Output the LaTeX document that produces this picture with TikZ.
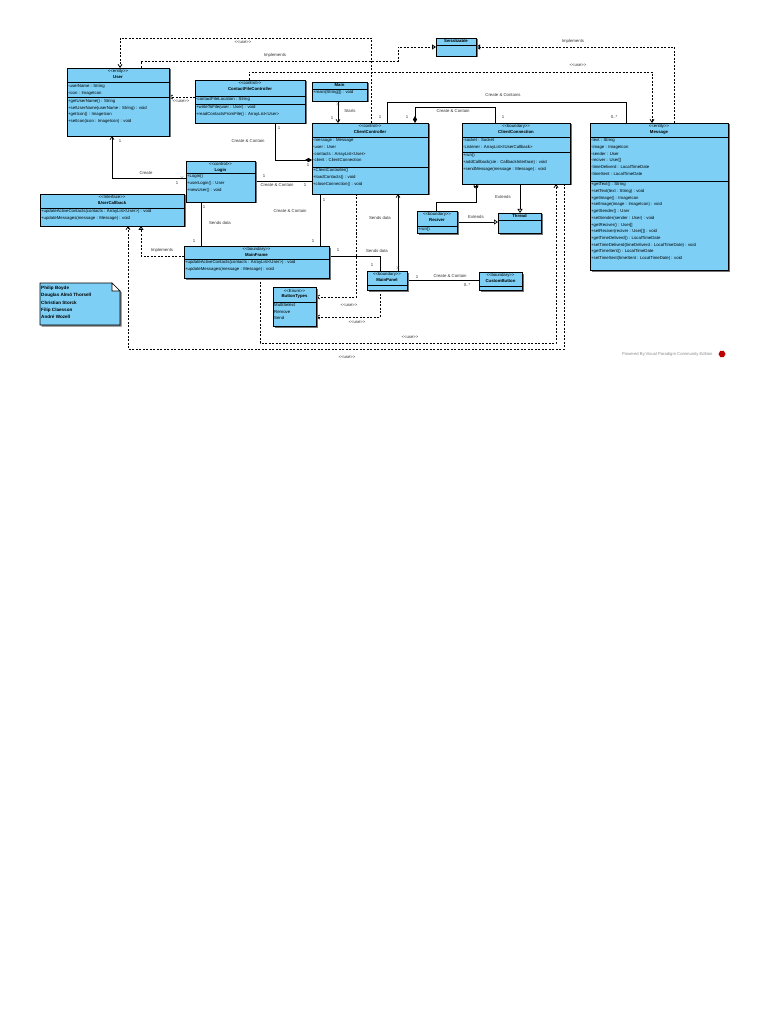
\documentclass[tikz,border=0pt]{standalone}
\usepackage{fontspec}
\setmainfont{Liberation Sans}
\usetikzlibrary{arrows.meta,shapes.geometric}
\definecolor{cfill}{HTML}{7DCFF5}
\newcommand{\tf}{\fontsize{4.3}{6.7}\selectfont}
\newcommand{\sto}[1]{{<}{<}#1{>}{>}}
\newcommand{\ubox}[6]{%
  \fill[black!55] (#2+1.5,#3+1.5) rectangle (#4+1.5,#5+1.5);
  \node[ubx,minimum width={(#4-#2)*1pt},minimum height={(#5-#3)*1pt},anchor=north west] (#1) at (#2,#3) {};
  \foreach \yy in {#6} {\draw[line width=0.7pt] (#2,\yy) -- (#4,\yy);}
}
\tikzset{
  ubx/.style={draw,line width=0.8pt,fill=cfill,inner sep=0pt},
  hd/.style={font=\fontsize{4.3}{5.8}\selectfont,inner sep=0pt,anchor=north,align=center},
  mem/.style={font=\tf,inner sep=0pt,anchor=north west,align=left},
  lbl/.style={font=\tf,inner sep=0.5pt,text=black!80},
  ln/.style={line width=0.7pt},
  dl/.style={line width=0.8pt,dash pattern=on 2pt off 1.5pt},
  dep/.style={dl,-{Straight Barb[length=3pt,width=4pt]}},
  real/.style={dl,-{Triangle[open,length=4pt,width=5pt,fill=cfill]}},
  gen/.style={ln,-{Triangle[open,length=4pt,width=5pt,fill=white]}},
  nav/.style={ln,-{Straight Barb[length=3pt,width=4pt]}},
  comp/.style={ln,{Diamond[length=7pt,width=4pt]}-},
}
\begin{document}
\begin{tikzpicture}[x=1pt,y=-1pt]
\useasboundingbox[fill=white] (0,0) rectangle (768,1024);
% ---------- connectors (behind boxes) ----------
\draw[dep] (371,123) -- (371,38) -- (120,38) -- (120,68);
\node[lbl] (u1) at (243,42) {\sto{use}};
\draw[real] (141,68) -- (141,61) -- (398,61) -- (398,47) -- (436,47);
\node[lbl] (i1) at (275,55) {Implements};
\draw[dep] (249,80) -- (249,72) -- (652,72) -- (652,123);
\node[lbl] (u2) at (578,65) {\sto{use}};
\draw[real] (674,123) -- (674,47) -- (476,47);
\node[lbl] (i2) at (573,41) {Implements};
\draw[dep] (195,97) -- (169,97);
\node[lbl] (u3) at (181,101) {\sto{use}};
\draw[comp] (312,160) -- (275,160) -- (275,123);
\node[lbl] (c1) at (248,141) {Create \& Contain};
\node[lbl] at (279,128) {1}; \node[lbl] at (308,165) {1};
\draw[nav] (338,101) -- (338,123);
\node[lbl] at (338,104) {$\times$};
\node[lbl] (s1) at (350,111) {Starts};
\node[lbl] at (332,118) {1};
\draw[nav] (186,178) -- (112,178) -- (112,136);
\node[lbl] at (182,178) {$\times$};
\node[lbl] (c2) at (146,173) {Create};
\node[lbl] at (120,141) {1}; \node[lbl] at (177,183) {1};
\draw[ln] (255,181) -- (312,181);
\node[lbl] (c3) at (277,185) {Create \& Contain};
\node[lbl] at (264,176) {1}; \node[lbl] at (305,185) {1};
\draw[ln] (201,202) -- (201,246);
\node[lbl] (sd1) at (220,223) {Sends data};
\node[lbl] at (204,207) {1}; \node[lbl] at (194,241) {1};
\draw[ln] (320,194) -- (320,246);
\node[lbl] (c4) at (290,211) {Create \& Contain};
\node[lbl] at (324,200) {1}; \node[lbl] at (313,241) {1};
\draw[ln] (387,123) -- (387,102) -- (626,102) -- (626,123);
\node[lbl] (c5) at (503,95) {Create \& Contains};
\node[lbl] at (380,117) {1}; \node[lbl] at (614,117) {0..*};
\draw[comp] (415,123) -- (415,107) -- (495,107) -- (495,123);
\node[lbl] (c6) at (453,111) {Create \& Contain};
\node[lbl] at (407,117) {1}; \node[lbl] at (503,117) {1};
\draw[ln] (436,211) -- (436,202) -- (476,202) -- (476,188);
\draw[ln,fill=white] (476,186) circle (2pt);
\draw[ln] (474,186) -- (478,186) (476,184) -- (476,188);
\draw[gen] (520,184) -- (520,213);
\node[lbl] (e1) at (503,197) {Extends};
\draw[gen] (457,222) -- (498,222);
\node[lbl] (e2) at (476,217) {Extends};
\draw[nav] (398,271) -- (398,194);
\node[lbl] at (398,268) {$\times$};
\node[lbl] (sd2) at (380,218) {Sends data};
\draw[ln] (329,256) -- (380,256) -- (380,271);
\node[lbl] (sd3) at (377,251) {Sends data};
\node[lbl] at (338,250) {1}; \node[lbl] at (372,265) {1};
\draw[dep] (356,194) -- (356,297) -- (316,297);
\node[lbl] (u4) at (349,305) {\sto{use}};
\draw[dep] (380,290) -- (380,317) -- (316,317);
\node[lbl] (u5) at (357,322) {\sto{use}};
\draw[ln] (407,280) -- (479,280);
\node[lbl] (c7) at (450,276) {Create \& Contain};
\node[lbl] at (417,277) {1}; \node[lbl] at (467,285) {0..*};
\draw[dep] (260,278) -- (260,343) -- (556,343) -- (556,184);
\node[lbl] (u6) at (410,337) {\sto{use}};
\draw[dep] (564,184) -- (564,349) -- (128,349) -- (128,226);
\node[lbl] (u7) at (347,357) {\sto{use}};
\draw[real] (184,256) -- (141,256) -- (141,226);
\node[lbl] (i3) at (162,250) {Implements};
% ---------- classes ----------
\ubox{user}{67}{68}{169}{136}{82,97}
\node[hd] at (118,69.5) {\sto{entity}\\\textbf{User}};
\node[mem] at (68,84) {-userName : String\\-icon : ImageIcon};
\node[mem] at (68,99) {+getUserName() : String\\+setUserName(userName : String) : void\\+getIcon() : ImageIcon\\+setIcon(icon : ImageIcon) : void};
\ubox{cfc}{195}{80}{305}{123}{96,104}
\node[hd] at (250,81.5) {\sto{control}\\\textbf{ContactFileController}};
\node[mem] at (196,97) {-contactFileLocation : String};
\node[mem] at (196,105.5) {+writeToFile(user : User) : void\\+readContactsFromFile() : ArrayList<User>};
\ubox{main}{312}{82}{367}{101}{89}
\node[hd] at (339.5,83.5) {\textbf{Main}};
\node[mem] at (313,90.5) {+main(String[]) : void};
\ubox{cc}{312}{123}{428}{194}{137,167}
\node[hd] at (370,124.5) {\sto{control}\\\textbf{ClientController}};
\node[mem] at (313,138.5) {-message : Message\\-user : User\\-contacts : ArrayList<User>\\-client : ClientConnection};
\node[mem] at (313,168.5) {+ClientController()\\+loadContacts() : void\\+closeConnection() : void};
\ubox{conn}{462}{123}{570}{184}{137,152}
\node[hd] at (516,124.5) {\sto{boundary}\\\textbf{ClientConnection}};
\node[mem] at (463,138.5) {-socket : Socket\\-Listener : ArrayList<IUserCallback>};
\node[mem] at (463,153.5) {+run()\\+addCallback(cie : CallbackInterface) : void\\+sendMessage(message : Message) : void};
\ubox{msg}{590}{123}{728}{270}{137,181}
\node[hd] at (659,124.5) {\sto{entity}\\\textbf{Message}};
\node[mem] at (591,138.5) {-text : String\\-image : ImageIcon\\-sender : User\\-reciver : User[]\\-timeDeliverd : LocalTimeDate\\-timeSent : LocalTimeDate};
\node[mem] at (591,182.5) {+getText() : String\\+setText(text : String) : void\\+getImage() : ImageIcon\\+setImage(image : ImageIcon) : void\\+getSender() : User\\+setSender(sender : User) : void\\+getReciver() : User[]\\+setReciver(reciver : User[]) : void\\+getTimeDeliverd() : LocalTimeDate\\+setTimeDeliverd(timeDeliverd : LocalTimeDate) : void\\+getTimeSent() : LocalTimeDate\\+setTimeSent(timeSent : LocalTimeDate) : void};
\ubox{ser}{436}{38}{476}{56}{45}
\node[hd] at (456,39.5) {\textbf{Serializable}};
\ubox{login}{186}{161}{255}{202}{173}
\node[hd] at (220.5,162.5) {\sto{control}\\\textbf{Login}};
\node[mem] at (187,174.5) {+Login()\\+userLogin() : User\\+newUser() : void};
\ubox{iuc}{40}{194}{184}{226}{208}
\node[hd] at (112,195.5) {\sto{Interface}\\\textbf{IUserCallback}};
\node[mem] at (41,209.5) {+updateActiveContacts(contacts : ArrayList<User>) : void\\+updateMessages(message : Message) : void};
\ubox{mf}{184}{246}{329}{278}{259}
\node[hd] at (256.5,247.5) {\sto{boundary}\\\textbf{MainFrame}};
\node[mem] at (185,260.5) {+updateActiveContacts(contacts : ArrayList<User>) : void\\+updateMessages(message : Message) : void};
\ubox{bt}{273}{287}{316}{326}{302}
\node[hd] at (294.5,289) {\sto{Enum}\\\textbf{ButtonTypes}};
\node[mem] at (274,303) {MultiSelect\\Remove\\Send};
\ubox{mp}{367}{271}{407}{290}{285}
\node[hd] at (387,272.5) {\sto{boundary}\\\textbf{MainPanel}};
\ubox{cb}{479}{272}{522}{290}{286}
\node[hd] at (500.5,273.5) {\sto{boundary}\\\textbf{CustomButton}};
\ubox{rec}{417}{211}{457}{233}{226}
\node[hd] at (437,212.5) {\sto{boundary}\\\textbf{Reciver}};
\node[mem] at (418,227) {+run()};
\ubox{thr}{498}{213}{541}{233}{220}
\node[hd] at (519.5,214.5) {\textbf{Thread}};
% ---------- note ----------
\fill[black!55] (41.5,284.5) -- (113.5,284.5) -- (121.5,292.5) -- (121.5,326.5) -- (41.5,326.5) -- cycle;
\draw[line width=0.7pt,fill=cfill] (40,283) -- (112,283) -- (120,291) -- (120,325) -- (40,325) -- cycle;
\draw[line width=0.6pt,fill=white] (112,283) -- (112,291) -- (120,291) -- cycle;
\node[mem,font=\fontsize{4.6}{7.3}\selectfont\bfseries] (note) at (41,286) {Philip Boyde\\Douglas Almö Thorsell\\Christian Storck\\Filip Claesson\\André Wozell};
\node[font=\fontsize{4.2}{5}\selectfont,text=black!45,anchor=east] (pw) at (716,354) {Powered By\,Visual Paradigm Community Edition};
\node[regular polygon,regular polygon sides=6,fill=red!75!black,minimum size=7pt,inner sep=0pt] (logo) at (722,354) {};
\end{tikzpicture}
\end{document}
